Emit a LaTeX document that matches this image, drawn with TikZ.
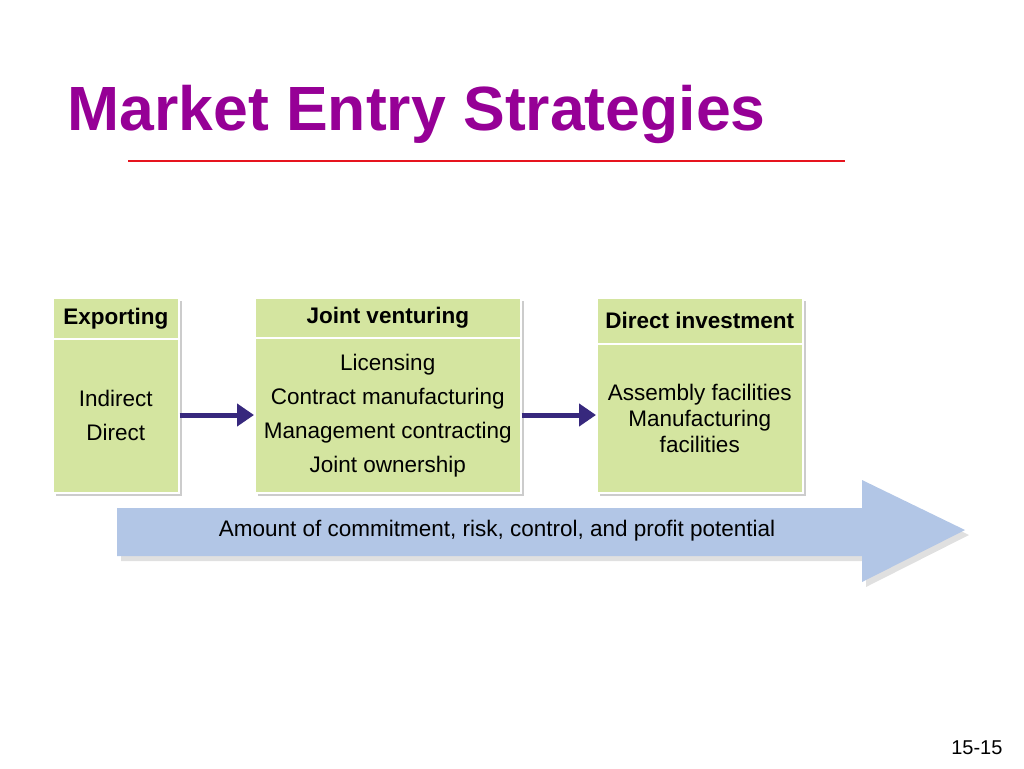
\documentclass[tikz,border=0pt]{standalone}
\usepackage{fontspec}
\setmainfont{Liberation Sans}
\usetikzlibrary{shapes.arrows,arrows.meta}
\definecolor{boxg}{RGB}{212,229,160}
\definecolor{arrp}{RGB}{55,40,125}
\definecolor{bigb}{RGB}{178,198,230}
\definecolor{titlep}{RGB}{150,0,150}
\definecolor{redl}{RGB}{230,20,30}
\tikzset{
  hdr/.style={fill=boxg,draw=white,line width=1.5pt,minimum width=#1,minimum height=41pt,inner sep=0pt,font=\fontsize{22.5}{26}\selectfont\bfseries,anchor=north west},
  bdy/.style={fill=boxg,draw=white,line width=1.5pt,minimum width=#1,inner sep=0pt,font=\fontsize{22.5}{34}\selectfont,align=center,anchor=north west},
  flow/.style={draw=arrp,line width=5pt,-{Triangle[length=17pt,width=22pt]}}
}
\begin{document}
\begin{tikzpicture}[x=1pt,y=-1pt]
\useasboundingbox (0,0) rectangle (1024,768);
\node[anchor=west,text=titlep,font=\fontsize{62.5}{70}\selectfont\bfseries] (title) at (64,114) {Market Entry Strategies};
\coordinate (r1) at (128,161); \coordinate (r2) at (845,161);
\draw[redl,line width=2pt] (r1) -- (r2);
% shadows
\fill[black!20] (56,301) rectangle (182,496);
\fill[black!20] (258,301) rectangle (524,496);
\fill[black!20] (600,301) rectangle (806,496);
% boxes
\node[hdr=126pt] (eh) at (52,297) {Exporting};
\node[bdy=126pt,minimum height=154pt] (eb) at (52,338) {Indirect\\Direct};
\node[hdr=266pt,minimum height=40pt] (jh) at (254,297) {Joint venturing};
\node[bdy=266pt,minimum height=155pt] (jb) at (254,337) {Licensing\\Contract manufacturing\\Management contracting\\Joint ownership};
\node[hdr=206pt,minimum height=46pt] (dh) at (596,297) {Direct investment};
\node[bdy=206pt,minimum height=149pt,font=\fontsize{22.5}{26}\selectfont] (db) at (596,343) {Assembly facilities\\Manufacturing\\facilities};
\draw[flow] (eb.east |- 0,415) -- (jb.west |- 0,415);
\draw[flow] (jb.east |- 0,415) -- (db.west |- 0,415);
% big arrow
\fill[black!12] (121,513) -- (866,513) -- (866,485) -- (969,535) -- (866,587) -- (866,561) -- (121,561) -- cycle;
\fill[bigb] (117,508) -- (862,508) -- (862,480) -- (965,530) -- (862,582) -- (862,556) -- (117,556) -- cycle;
\node[font=\fontsize{22.5}{26}\selectfont] (amt) at (497,531) {Amount of commitment, risk, control, and profit potential};
\node[font=\fontsize{20}{24}\selectfont,anchor=east] (pg) at (1006,748) {15-15};
\end{tikzpicture}
\end{document}
